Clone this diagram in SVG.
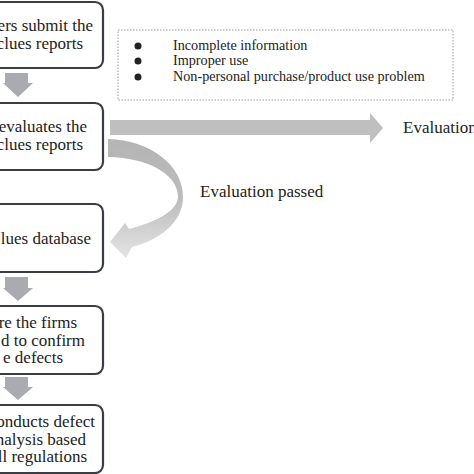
<svg xmlns="http://www.w3.org/2000/svg" width="474" height="474" viewBox="0 0 474 474">
<style>
.box{fill:#fff;stroke:#3a3d45;stroke-width:2.2}
.t{font-family:"Liberation Serif","Times New Roman",serif;font-size:17px;fill:#222}
.s{font-family:"Liberation Serif","Times New Roman",serif;font-size:14.2px;fill:#222}
.down{fill:#a9abb0}
</style>
<defs>
<linearGradient id="cg" x1="0" y1="139" x2="0" y2="258" gradientUnits="userSpaceOnUse">
<stop offset="0" stop-color="#b4b4b4"/>
<stop offset="0.5" stop-color="#bcbcbc"/>
<stop offset="1" stop-color="#e4e4e4"/>
</linearGradient>
</defs>
<rect width="474" height="474" fill="#fff"/>
<g id="connectors">
<path class="down" d="M5,73 H28 V83 H33 L18,97 L3,83 H5 Z"/>
<path class="down" d="M5,277 H28 V288 H33 L18,301 L3,288 H5 Z"/>
<path class="down" d="M5,377 H28 V387 H33 L18,400 L3,387 H5 Z"/>
<path fill="#bfbfbf" d="M110,120 H370 V113 L383,128 L370,143 V135 H110 Z"/>
<path fill="url(#cg)" d="M108,139 C150,140 183,165 183,197 C183,222 160,240 132,247 L126,258 L110,242 L125,223 L129,229 C155,222 177,212 178,197 C178,175 150,158 108,157 Z"/>
</g>
<g id="node1">
<rect class="box" x="-150" y="2" width="253" height="66" rx="8"/>
<text class="t" x="93" y="31" text-anchor="end">ers submit the</text>
<text class="t" x="83" y="49" text-anchor="end">clues reports</text>
</g>
<g id="node2">
<rect class="box" x="-150" y="103" width="253" height="67" rx="8"/>
<text class="t" x="87" y="132" text-anchor="end">evaluates the</text>
<text class="t" x="83" y="150" text-anchor="end">clues reports</text>
</g>
<g id="node3">
<rect class="box" x="-150" y="204" width="253" height="68" rx="8"/>
<text class="t" x="91" y="244" text-anchor="end">lues database</text>
</g>
<g id="node4">
<rect class="box" x="-150" y="306" width="253" height="68" rx="8"/>
<text class="t" x="77" y="328" text-anchor="end">re the firms</text>
<text class="t" x="85" y="346" text-anchor="end">d to confirm</text>
<text class="t" x="63" y="363" text-anchor="end">e defects</text>
</g>
<g id="node5">
<rect class="box" x="-150" y="405" width="253" height="68" rx="8"/>
<text class="t" x="95" y="427" text-anchor="end">onducts defect</text>
<text class="t" x="86" y="445" text-anchor="end">nalysis based</text>
<text class="t" x="87" y="462" text-anchor="end">ll regulations</text>
</g>
<g id="reasons">
<rect x="118" y="30" width="335" height="70" fill="none" stroke="#9a9a9a" stroke-width="1" stroke-dasharray="1.5,1.5"/>
<circle cx="138" cy="46" r="3.5" fill="#222"/>
<circle cx="138" cy="61" r="3.5" fill="#222"/>
<circle cx="138" cy="77" r="3.5" fill="#222"/>
<text class="s" x="173" y="50">Incomplete information</text>
<text class="s" x="173" y="65">Improper use</text>
<text class="s" x="173" y="81">Non-personal purchase/product use problem</text>
</g>
<g id="label-fail">
<text class="t" x="403" y="133">Evaluation</text>
</g>
<g id="label-pass">
<text class="t" x="200" y="197">Evaluation passed</text>
</g>
</svg>
